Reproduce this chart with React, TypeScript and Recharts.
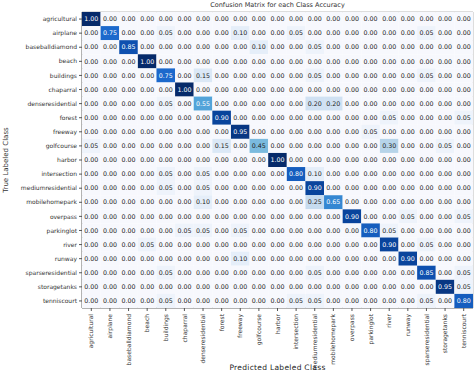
import React from 'react';
import { ScatterChart, Scatter, XAxis, YAxis, ReferenceArea } from 'recharts';

const classes = [
  'agricultural', 'airplane', 'baseballdiamond', 'beach', 'buildings', 'chaparral',
  'denseresidential', 'forest', 'freeway', 'golfcourse', 'harbor', 'intersection',
  'mediumresidential', 'mobilehomepark', 'overpass', 'parkinglot', 'river', 'runway',
  'sparseresidential', 'storagetanks', 'tenniscourt',
];

// rows = true class, columns = predicted class
const matrix: number[][] = [
  [1.00, 0, 0, 0, 0, 0, 0, 0, 0, 0, 0, 0, 0, 0, 0, 0, 0, 0, 0, 0, 0],
  [0, 0.75, 0, 0, 0.05, 0, 0, 0, 0.10, 0, 0, 0.05, 0, 0, 0, 0, 0, 0, 0.05, 0, 0],
  [0, 0, 0.85, 0, 0, 0, 0, 0, 0, 0.10, 0, 0, 0.05, 0, 0, 0, 0, 0, 0, 0, 0],
  [0, 0, 0, 1.00, 0, 0, 0, 0, 0, 0, 0, 0, 0, 0, 0, 0, 0, 0, 0, 0, 0],
  [0, 0, 0, 0, 0.75, 0, 0.15, 0, 0, 0, 0, 0, 0.05, 0, 0, 0, 0, 0, 0.05, 0, 0],
  [0, 0, 0, 0, 0, 1.00, 0, 0, 0, 0, 0, 0, 0, 0, 0, 0, 0, 0, 0, 0, 0],
  [0, 0, 0, 0, 0.05, 0, 0.55, 0, 0, 0, 0, 0, 0.20, 0.20, 0, 0, 0, 0, 0, 0, 0],
  [0, 0, 0, 0, 0, 0, 0, 0.90, 0, 0, 0, 0, 0, 0, 0, 0, 0.05, 0, 0, 0, 0.05],
  [0, 0, 0, 0, 0, 0, 0, 0, 0.95, 0, 0, 0, 0, 0, 0, 0.05, 0, 0, 0, 0, 0],
  [0.05, 0, 0, 0, 0, 0, 0, 0.15, 0, 0.45, 0, 0, 0, 0, 0, 0, 0.30, 0, 0, 0.05, 0],
  [0, 0, 0, 0, 0, 0, 0, 0, 0, 0, 1.00, 0, 0, 0, 0, 0, 0, 0, 0, 0, 0],
  [0, 0, 0, 0, 0.05, 0, 0.05, 0, 0, 0, 0, 0.80, 0.10, 0, 0, 0, 0, 0, 0, 0, 0],
  [0, 0, 0, 0, 0.05, 0, 0.05, 0, 0, 0, 0, 0, 0.90, 0, 0, 0, 0, 0, 0, 0, 0],
  [0, 0, 0, 0, 0, 0, 0.10, 0, 0, 0, 0, 0, 0.25, 0.65, 0, 0, 0, 0, 0, 0, 0],
  [0, 0, 0, 0, 0, 0, 0, 0, 0, 0, 0, 0, 0, 0, 0.90, 0, 0, 0.05, 0, 0, 0.05],
  [0, 0, 0, 0, 0, 0.05, 0.05, 0, 0.05, 0, 0, 0, 0, 0, 0, 0.80, 0.05, 0, 0, 0, 0],
  [0, 0, 0, 0.05, 0, 0, 0, 0, 0, 0, 0, 0, 0, 0, 0, 0, 0.90, 0, 0.05, 0, 0],
  [0, 0, 0, 0, 0, 0, 0, 0, 0.10, 0, 0, 0, 0, 0, 0, 0, 0, 0.90, 0, 0, 0],
  [0, 0, 0, 0, 0.05, 0, 0, 0, 0, 0, 0, 0, 0.05, 0, 0, 0, 0, 0, 0.85, 0, 0.05],
  [0, 0, 0, 0, 0, 0, 0, 0, 0, 0, 0, 0, 0, 0, 0, 0, 0, 0, 0, 0.95, 0.05],
  [0, 0, 0, 0, 0.05, 0, 0, 0, 0, 0, 0, 0.05, 0.05, 0, 0, 0, 0, 0, 0.05, 0, 0.80],
];

const tickIdx = classes.map((_, i) => i);

// Blues-like ramp, a bit more vivid in the upper half like the reference
const blues = ['#f7f8fd', '#e0ebf8', '#c6dbef', '#9ecae1', '#62b0dc', '#3b8fd4', '#1c69cc', '#0a4aa8', '#062a6a'];

const hex = (h: string) => [1, 3, 5].map(i => parseInt(h.slice(i, i + 2), 16));
const blueColor = (v: number) => {
  const t = Math.max(0, Math.min(1, v)) * (blues.length - 1);
  const i = Math.min(Math.floor(t), blues.length - 2);
  const f = t - i;
  const a = hex(blues[i]);
  const b = hex(blues[i + 1]);
  const c = a.map((x, k) => Math.round(x + (b[k] - x) * f));
  return `rgb(${c[0]},${c[1]},${c[2]})`;
};

const W = 474;
const H = 374;
const M = { top: 12, right: 1, bottom: 12, left: 0 };
const Y_AXIS_W = 82;
const X_AXIS_H = 54;
const cellW = (W - M.left - M.right - Y_AXIS_W) / classes.length;
const cellH = (H - M.top - M.bottom - X_AXIS_H) / classes.length;

const FONT = '"DejaVu Sans", sans-serif';

const cells = matrix.flatMap((row, r) => row.map((v, c) => ({ x: c, y: r, v })));

const CellShape = (props: any) => {
  const { cx, cy, payload } = props;
  const v = payload.v as number;
  return (
    <g>
      <rect x={cx - cellW / 2} y={cy - cellH / 2} width={cellW} height={cellH} fill={blueColor(v)} />
      <text
        x={cx}
        y={cy}
        dy="0.35em"
        textAnchor="middle"
        fontSize={6.3}
        fontFamily={FONT}
        fill={v > 0.5 ? '#ffffff' : '#222222'}
      >
        {v.toFixed(2)}
      </text>
    </g>
  );
};

const XTick = (props: any) => {
  const { x, y, payload } = props;
  return (
    <text
      x={0}
      y={0}
      transform={`translate(${x},${y + 1}) rotate(-90)`}
      textAnchor="end"
      dy="0.35em"
      fontSize={6}
      fontFamily={FONT}
      fill="#333"
    >
      {classes[payload.value]}
    </text>
  );
};

export default function App() {
  return (
    <div style={{ position: 'absolute', left: 0, top: 0, width: W, height: H, background: '#fff' }}>
      <div
        style={{
          position: 'absolute',
          top: 0,
          left: Y_AXIS_W,
          width: W - Y_AXIS_W - M.right,
          textAlign: 'center',
          fontFamily: FONT,
          fontSize: 6.5,
          color: '#333',
          lineHeight: '10px',
        }}
      >
        Confusion Matrix for each Class Accuracy
      </div>
      <ScatterChart width={W} height={H} margin={M}>
        <XAxis
          type="number"
          dataKey="x"
          domain={[-0.5, classes.length - 0.5]}
          ticks={tickIdx}
          interval={0}
          height={X_AXIS_H}
          tick={<XTick />}
          tickSize={3}
          axisLine={{ stroke: '#888' }}
          tickLine={{ stroke: '#555' }}
          allowDataOverflow
          label={{
            value: 'Predicted Labeled Class',
            position: 'insideBottom',
            offset: -8,
            style: { fontSize: 7.5, fontFamily: FONT, fill: '#222', letterSpacing: 0.3 },
          }}
        />
        <YAxis
          type="number"
          dataKey="y"
          reversed
          domain={[-0.5, classes.length - 0.5]}
          ticks={tickIdx}
          interval={0}
          width={Y_AXIS_W}
          tickFormatter={(i: number) => classes[i]}
          tick={{ fontSize: 6, fontFamily: FONT, fill: '#333' }}
          tickSize={3}
          tickMargin={2}
          axisLine={{ stroke: '#888' }}
          tickLine={{ stroke: '#555' }}
          allowDataOverflow
          label={{
            value: 'True Labeled Class',
            angle: -90,
            position: 'insideLeft',
            offset: 6,
            style: { fontSize: 7, fontFamily: FONT, fill: '#333', textAnchor: 'middle' },
          }}
        />
        <Scatter data={cells} shape={<CellShape />} isAnimationActive={false} />
        <ReferenceArea
          x1={-0.5}
          x2={classes.length - 0.5}
          y1={-0.5}
          y2={classes.length - 0.5}
          fill="none"
          stroke="#aaa"
          strokeWidth={0.8}
          ifOverflow="visible"
        />
      </ScatterChart>
    </div>
  );
}
